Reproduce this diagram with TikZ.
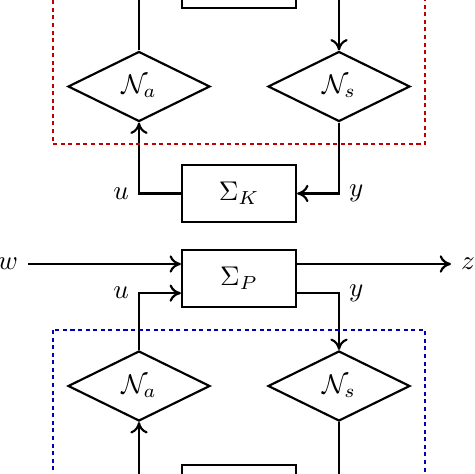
\documentclass[tikz,border=0pt]{standalone}
\usetikzlibrary{shapes.geometric,arrows.meta}
\begin{document}
\begin{tikzpicture}[x=0.013cm,y=-0.013cm,thick,>={To[length=4.2pt,width=6.4pt]},
    sysbox/.style={draw,rectangle,minimum width=1.482cm,minimum height=0.741cm},
    netdiamond/.style={draw,diamond,inner sep=0pt,minimum width=1.846cm,minimum height=0.91cm},
    region/.style={dash pattern=on 1.5pt off 1.3pt,semithick}]
  \useasboundingbox (0,0) rectangle (474,474);
  \clip (0,0) rectangle (474,474);

  % upper loop
  {
    \node[sysbox] (se) at (239,-20.5) {};
    \node[netdiamond] (na1) at (139,86.5) {$\mathcal{N}_a$};
    \node[netdiamond] (ns1) at (339,86.5) {$\mathcal{N}_s$};
    \node[sysbox] (sk) at (239,193.5) {$\Sigma_K$};

    \coordinate (topl) at (139,-30);
    \coordinate (topr) at (339,-30);

    \draw (na1.north) -- (topl);
    \draw[->] (topr) -- (ns1.north);
    \draw[->] (sk.west) -| node[pos=0.5,left] {$u$} (na1.south);
    \draw[->] (ns1.south) |- node[pos=0.5,right] {$y$} (sk.east);

    \draw[region,red!75!black] (53,-30) rectangle (425,144);
  }

  % plant
  {
    \node[sysbox] (sp) at (239,278.5) {$\Sigma_P$};
    \node (w) at (8,264) {$w$};
    \node (z) at (468,264) {$z$};

    \draw[->] (w) -- (w -| sp.west);
    \draw[->] (z -| sp.east) -- (z);
  }

  % lower loop
  {
    \node[netdiamond] (na2) at (139,386) {$\mathcal{N}_a$};
    \node[netdiamond] (ns2) at (339,386) {$\mathcal{N}_s$};
    \node[sysbox] (sd) at (239,493.5) {};

    \coordinate (botl) at (139,510);
    \coordinate (botr) at (339,510);

    \draw[->] (na2.north) |- node[pos=0.5,left] {$u$} ([yshift=-0.19cm]sp.west);
    \draw[->] ([yshift=-0.19cm]sp.east) -| node[pos=0.5,right] {$y$} (ns2.north);
    \draw[->] (botl) -- (na2.south);
    \draw (ns2.south) -- (botr);

    \draw[region,blue!70!black] (53,330) rectangle (425,510);
  }
\end{tikzpicture}
\end{document}
